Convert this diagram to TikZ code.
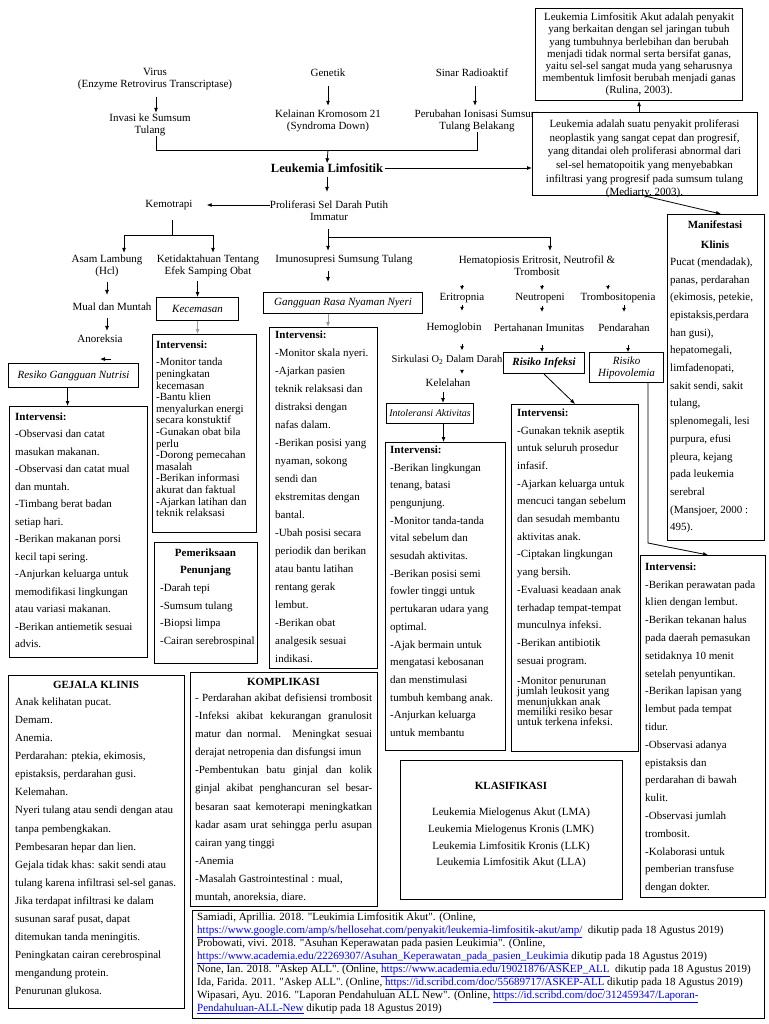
\documentclass[tikz,border=0pt]{standalone}
\usepackage{fontspec}
\setmainfont{Liberation Serif}
\usetikzlibrary{arrows.meta,calc}
\newcommand\myfs[2]{\fontsize{#1}{#2}\selectfont}
\newcommand\jl[1]{\makebox[177pt][s]{#1}}
\newcommand\lnk[1]{\textcolor{blue}{\underline{#1}}}
\newcommand\qq{\textquotedbl}
\begin{document}
\begin{tikzpicture}[x=1pt,y=-1pt,
  box/.style={draw, line width=1.1pt, inner sep=0pt, anchor=north west, fill=white, font=\myfs{11}{12}},
  tx/.style={anchor=north west, align=left, inner sep=0pt},
  lbl/.style={align=center, inner sep=0pt, font=\myfs{11}{12}},
  arr/.style={-{Latex[length=5pt,width=4pt]}, line width=0.8pt},
  sarr/.style={-{Latex[length=4pt,width=4pt]}, line width=0.8pt},
  garr/.style={arr, draw=gray!80, fill=gray!80},
  ln/.style={line width=0.8pt}
]
\useasboundingbox (0,0) rectangle (768,1024);

% ---------- top causes
\node[lbl] (virus) at (155,79.5) {Virus\\(Enzyme Retrovirus Transcriptase)};
\node[lbl] (invasi) at (150,125) {Invasi ke Sumsum\\Tulang};
\node[lbl] (genetik) at (328,73) {Genetik};
\node[lbl] (kelainan) at (328,121) {Kelainan Kromosom 21\\(Syndroma Down)};
\node[lbl] (sinar) at (472,73) {Sinar Radioaktif};
\node[lbl] (perubahan) at (477,121) {Perubahan Ionisasi Sumsum\\Tulang Belakang};
\node[font=\myfs{12.5}{14}\bfseries, inner sep=0pt] (leuk) at (327,168) {Leukemia Limfositik};

\coordinate (jl) at (156,150);
\coordinate (jr) at (477,150);
\coordinate (jm) at (328,150);

% ---------- definition boxes
\node[box, minimum width=207pt, minimum height=92pt] (def1) at (535,8) {};
\node[align=center, inner sep=0pt, font=\myfs{11}{12.2}] (tdef1) at (def1.center) {Leukemia Limfositik Akut adalah penyakit\\yang berkaitan dengan sel jaringan tubuh\\yang tumbuhnya berlebihan dan berubah\\menjadi tidak normal serta bersifat ganas,\\yaitu sel-sel sangat muda yang seharusnya\\membentuk limfosit berubah menjadi ganas\\(Rulina, 2003).};
\node[box, minimum width=225pt, minimum height=83pt] (def2) at (532,112) {};
\node[align=center, inner sep=0pt, font=\myfs{11}{13.6}] (tdef2) at (644.5,159) {Leukemia adalah suatu penyakit proliferasi\\neoplastik yang sangat cepat dan progresif,\\yang ditandai oleh proliferasi abnormal dari\\sel-sel hematopoitik yang menyebabkan\\infiltrasi yang progresif pada sumsum tulang\\(Mediarty, 2003).};

\node[box, minimum width=97pt, minimum height=326pt] (manif) at (667,214) {};
\node[align=center, inner sep=0pt, font=\myfs{11}{20}\bfseries] (tmanif1) at (715,235) {Manifestasi\\Klinis};
\node[tx, font=\myfs{11}{17.7}] (tmanif2) at (670,257.5) {Pucat (mendadak),\\panas, perdarahan\\(ekimosis, petekie,\\epistaksis,perdara\\han gusi),\\hepatomegali,\\limfadenopati,\\sakit sendi, sakit\\tulang,\\splenomegali, lesi\\purpura, efusi\\pleura, kejang\\pada leukemia\\serebral\\(Mansjoer, 2000 :\\495).};

% ---------- middle
\node[lbl] (prolif) at (329,211) {Proliferasi Sel Darah Putih\\Immatur};
\node[lbl] (kemo) at (169,205) {Kemotrapi};
\coordinate (kj) at (172,235);
\node[lbl] (asam) at (107,266) {Asam Lambung\\(Hcl)};
\node[lbl] (keti) at (208,266) {Ketidaktahuan Tentang\\Efek Samping Obat};
\node[lbl] (mual) at (112,307) {Mual dan Muntah};
\node[lbl] (anor) at (100,339) {Anoreksia};
\node[box, minimum width=130pt, minimum height=24pt, font=\myfs{11}{12}\itshape] (resnut) at (8,363) {Resiko Gangguan Nutrisi};

\node[box, minimum width=138pt, minimum height=251pt] (int1) at (9,406) {};
\node[tx, font=\myfs{11}{17.5}] (tint1) at (15,412.5) {\textbf{Intervensi:}\\-Observasi dan catat\\masukan makanan.\\-Observasi dan catat mual\\dan muntah.\\-Timbang berat badan\\setiap hari.\\-Berikan makanan porsi\\kecil tapi sering.\\-Anjurkan keluarga untuk\\memodifikasi lingkungan\\atau variasi makanan.\\-Berikan antiemetik sesuai\\advis.};

\node[box, minimum width=82pt, minimum height=23pt, font=\myfs{11}{12}\itshape] (kecem) at (156,297) {Kecemasan};
\node[box, minimum width=104pt, minimum height=198pt] (int2) at (152,334) {};
\node[tx, font=\myfs{11}{11.6}] (tint2) at (156,340.5) {\textbf{Intervensi:}\\[6pt]-Monitor tanda\\peningkatan\\kecemasan\\-Bantu klien\\menyalurkan energi\\secara konstuktif\\-Gunakan obat bila\\perlu\\-Dorong pemecahan\\masalah\\-Berikan informasi\\akurat dan faktual\\-Ajarkan latihan dan\\teknik relaksasi};

\node[box, minimum width=103pt, minimum height=121pt] (pemer) at (154,542) {};
\node[align=center, inner sep=0pt, font=\myfs{11}{17}\bfseries] (tpemer1) at (205.5,562) {Pemeriksaan\\Penunjang};
\node[tx, font=\myfs{11}{17.7}] (tpemer2) at (160,583.5) {-Darah tepi\\-Sumsum tulang\\-Biopsi limpa\\-Cairan serebrospinal};

\node[lbl] (imuno) at (344,260) {Imunosupresi Sumsung Tulang};
\node[box, minimum width=159pt, minimum height=21pt, font=\myfs{11}{12}\itshape] (gangg) at (263,292) {Gangguan Rasa Nyaman Nyeri};
\node[box, minimum width=108pt, minimum height=341pt] (int3) at (269,327) {};
\node[tx, font=\myfs{11}{18}] (tint3) at (275,330.5) {\textbf{Intervensi:}\\-Monitor skala nyeri.\\-Ajarkan pasien\\teknik relaksasi dan\\distraksi dengan\\nafas dalam.\\-Berikan posisi yang\\nyaman, sokong\\sendi dan\\ekstremitas dengan\\bantal.\\-Ubah posisi secara\\periodik dan berikan\\atau bantu latihan\\rentang gerak\\lembut.\\-Berikan obat\\analgesik sesuai\\indikasi.};

% ---------- hematopoiesis branch
\node[lbl] (hemat) at (537,266) {Hematopiosis Eritrosit, Neutrofil \&\\Trombosit};
\node[lbl] (erit) at (462,298) {Eritropnia};
\node[lbl] (neut) at (540,298) {Neutropeni};
\node[lbl] (tromb) at (618,298) {Trombositopenia};
\node[lbl] (hemo) at (454,328) {Hemoglobin};
\node[lbl] (pert) at (539,328) {Pertahanan Imunitas};
\node[lbl] (pend) at (624,328) {Pendarahan};
\node[lbl, font=\myfs{10.5}{12}] (sirk) at (447,360) {Sirkulasi O\textsubscript{2} Dalam Darah};
\node[box, minimum width=81pt, minimum height=21pt, font=\myfs{11}{12}\bfseries\itshape] (risinf) at (503,352) {Risiko Infeksi};
\node[box, minimum width=74pt, minimum height=30pt, align=center, font=\myfs{11}{12}\itshape] (rishipo) at (589,352) {Risiko\\Hipovolemia};
\node[lbl] (kel) at (448,383) {Kelelahan};
\node[box, minimum width=87pt, minimum height=20pt, font=\myfs{10}{12}\itshape] (intol) at (386,403) {Intoleransi Aktivitas};

\node[box, minimum width=120pt, minimum height=308pt] (int4) at (385,442) {};
\node[tx, font=\myfs{11}{17.7}] (tint4) at (390,445.5) {\textbf{Intervensi:}\\-Berikan lingkungan\\tenang, batasi\\pengunjung.\\-Monitor tanda-tanda\\vital sebelum dan\\sesudah aktivitas.\\-Berikan posisi semi\\fowler tinggi untuk\\pertukaran udara yang\\optimal.\\-Ajak bermain untuk\\mengatasi kebosanan\\dan menstimulasi\\tumbuh kembang anak.\\-Anjurkan keluarga\\untuk membantu};

\node[box, minimum width=127pt, minimum height=347pt] (int5) at (511,404) {};
\node[tx, font=\myfs{11}{17.7}] (tint5a) at (517,408.5) {\textbf{Intervensi:}\\-Gunakan teknik aseptik\\untuk seluruh prosedur\\infasif.\\-Ajarkan keluarga untuk\\mencuci tangan sebelum\\dan sesudah membantu\\aktivitas anak.\\-Ciptakan lingkungan\\yang bersih.\\-Evaluasi keadaan anak\\terhadap tempat-tempat\\munculnya infeksi.\\-Berikan antibiotik\\sesuai program.};
\node[tx, font=\myfs{11}{10}] (tint5b) at (517,677.5) {-Monitor penurunan\\jumlah leukosit yang\\menunjukkan anak\\memiliki resiko besar\\untuk terkena infeksi.};

\coordinate (hp) at (648,543);
\node[box, minimum width=125pt, minimum height=342pt] (int6) at (640,555) {};
\node[tx, font=\myfs{11}{17.8}] (tint6) at (645,562.5) {\textbf{Intervensi:}\\-Berikan perawatan pada\\klien dengan lembut.\\-Berikan tekanan halus\\pada daerah pemasukan\\setidaknya 10 menit\\setelah penyuntikan.\\-Berikan lapisan yang\\lembut pada tempat\\tidur.\\-Observasi adanya\\epistaksis dan\\perdarahan di bawah\\kulit.\\-Observasi jumlah\\trombosit.\\-Kolaborasi untuk\\pemberian transfuse\\dengan dokter.};

% ---------- bottom boxes
\node[box, minimum width=176pt, minimum height=333pt] (gejala) at (8,675) {};
\node[inner sep=0pt, font=\myfs{11}{12}\bfseries] (tgejala1) at (96,685) {GEJALA KLINIS};
\node[tx, font=\myfs{11}{18.1}] (tgejala2) at (15,697.5) {Anak kelihatan pucat.\\Demam.\\Anemia.\\Perdarahan: ptekia, ekimosis,\\epistaksis, perdarahan gusi.\\Kelemahan.\\Nyeri tulang atau sendi dengan atau\\tanpa pembengkakan.\\Pembesaran hepar dan lien.\\Gejala tidak khas: sakit sendi atau\\tulang karena infiltrasi sel-sel ganas.\\Jika terdapat infiltrasi ke dalam\\susunan saraf pusat, dapat\\ditemukan tanda meningitis.\\Peningkatan cairan cerebrospinal\\mengandung protein.\\Penurunan glukosa.};

\node[box, minimum width=187pt, minimum height=234pt] (kompl) at (190,672) {};
\node[inner sep=0pt, font=\myfs{11}{12}\bfseries] (tkompl1) at (283.5,682) {KOMPLIKASI};
\node[tx, font=\myfs{11}{18.1}] (tkompl2) at (195,693.5) {\jl{- Perdarahan akibat defisiensi trombosit}\\\jl{-Infeksi akibat kekurangan granulosit}\\\jl{matur dan normal. Meningkat sesuai}\\derajat netropenia dan disfungsi imun\\\jl{-Pembentukan batu ginjal dan kolik}\\\jl{ginjal akibat penghancuran sel besar-}\\\jl{besaran saat kemoterapi meningkatkan}\\\jl{kadar asam urat sehingga perlu asupan}\\cairan yang tinggi\\-Anemia\\-Masalah Gastrointestinal : mual,\\muntah, anoreksia, diare.};

\node[box, minimum width=222pt, minimum height=139pt] (klas) at (400,760) {};
\node[anchor=north, align=center, inner sep=0pt, font=\myfs{11}{16.7}] (tklas) at (511,782.5) {\textbf{KLASIFIKASI}\\[9pt]Leukemia Mielogenus Akut (LMA)\\Leukemia Mielogenus Kronis (LMK)\\Leukemia Limfositik Kronis (LLK)\\Leukemia Limfositik Akut (LLA)};

\node[box, minimum width=572pt, minimum height=108pt] (refs) at (192,910) {};
\node[tx, font=\myfs{11}{12.9}] (trefs) at (197,913) {Samiadi, Aprillia. 2018. \qq Leukimia Limfositik Akut\qq. (Online,\\\lnk{https://www.google.com/amp/s/hellosehat.com/penyakit/leukemia-limfositik-akut/amp/}\ \ dikutip pada 18 Agustus 2019)\\Probowati, vivi. 2018. \qq Asuhan Keperawatan pada pasien Leukimia\qq. (Online,\\\lnk{https://www.academia.edu/22269307/Asuhan\_Keperawatan\_pada\_pasien\_Leukimia} dikutip pada 18 Agustus 2019)\\None, Ian. 2018. \qq Askep ALL\qq. (Online, \lnk{https://www.academia.edu/19021876/ASKEP\_ALL}\ \ dikutip pada 18 Agustus 2019)\\Ida, Farida. 2011. \qq Askep ALL\qq. (Online, \lnk{https://id.scribd.com/doc/55689717/ASKEP-ALL} dikutip pada 18 Agustus 2019)\\Wipasari, Ayu. 2016. \qq Laporan Pendahuluan ALL New\qq. (Online, \lnk{https://id.scribd.com/doc/312459347/Laporan-}\\\lnk{Pendahuluan-ALL-New} dikutip pada 18 Agustus 2019)};

% ---------- connectors
\draw[arr] ($(virus.south)+(1,6)$) -- ($(virus.south |- invasi.north)+(1,-1)$);
\draw[arr] ($(genetik.south)+(0,9)$) -- ($(kelainan.north)+(0,-4)$);
\draw[arr] ($(sinar.south)+(3,9)$) -- ($(sinar.south |- perubahan.north)+(3,-4)$);
\draw[ln] (invasi.south -| jl) -- (jl) -- (jr) -- (perubahan.south -| jr);
\draw[arr] (jm) -- (leuk.north);
\draw[arr] ($(leuk.east)+(2,0)$) -- (def2.west |- leuk.east);
\draw[arr] ($(leuk.south)+(0,4)$) -- ($(leuk.south |- prolif.north)+(0,-9)$);
\draw[arr] (def1.south |- def2.north) -- (def1.south);
\draw[arr] (def2.south) -- ($(manif.north)+(5,0)$);

\draw[arr] (prolif.west |- kemo.east) -- ($(kemo.east)+(14,0)$);
\draw[ln] ($(kemo.south -| kj)+(0,10)$) -- (kj);
\draw[arr] (kj) -| ($(asam.north)+(17,-2)$);
\draw[arr] (kj) -| ($(keti.north)+(5,-2)$);
\draw[arr] ($(asam.south)+(0,5)$) -- ($(asam.south |- mual.north)+(0,-8)$);
\draw[arr] ($(mual.south -| asam.south)+(0,7)$) -- ($(anor.north -| asam.south)+(0,-4)$);
\draw[arr] ($(anor.south)+(11,16)$) -- ($(anor.south)+(0,16)$);
\draw[arr] ($(resnut.south)+(-6,0)$) -- ($(resnut.south |- int1.north)+(-6,0)$);
\draw[arr] ($(kecem.north |- keti.south)+(0,4)$) -- (kecem.north);
\draw[garr] (kecem.south) -- (kecem.south |- int2.north);

\draw[arr] ($(prolif.south)+(-1,8)$) -- ($(prolif.south |- imuno.north)+(-1,-4)$);
\draw[arr] ($(prolif.south)+(-1,16)$) -| ($(hemat.north)+(13,-5)$);
\draw[arr] ($(imuno.south -| prolif.south)+(-1,6)$) -- ($(prolif.south |- gangg.north)+(-1,-10)$);
\draw[garr] ($(gangg.south -| prolif.south)+(-1,0)$) -- ($(prolif.south |- int3.north)+(-1,0)$);

\draw[sarr] ($(hemat.south -| erit.north)+(0,9)$) -- ($(erit.north)+(0,-3)$);
\draw[sarr] ($(hemat.south -| neut.north)+(2,9)$) -- ($(neut.north)+(2,-3)$);
\draw[sarr] ($(hemat.south -| tromb.north)+(-10,9)$) -- ($(tromb.north)+(-10,-3)$);
\draw[sarr] ($(erit.south)+(0,2)$) -- ($(erit.south |- hemo.north)+(0,-12)$);
\draw[sarr] ($(neut.south)+(2,3)$) -- ($(neut.south |- pert.north)+(2,-12)$);
\draw[sarr] ($(pend.north |- tromb.south)+(0,2)$) -- ($(pend.north)+(0,-12)$);
\draw[sarr] ($(erit.south |- hemo.south)+(0,11)$) -- ($(erit.south |- sirk.north)+(0,-5)$);
\draw[sarr] ($(pert.south)+(3,13)$) -- ($(pert.south |- risinf.north)+(3,0)$);
\draw[sarr] ($(pend.south)+(4,13)$) -- ($(pend.south |- rishipo.north)+(4,0)$);
\draw[sarr] ($(erit.south |- sirk.south)+(0,5)$) -- ($(erit.south |- kel.north)+(0,-5)$);
\draw[arr] ($(kel.south)+(-5,5)$) -- ($(kel.south |- intol.north)+(-5,0)$);
\draw[arr] ($(intol.south)+(13.5,0)$) -- ($(intol.south |- int4.north)+(13.5,0)$);
\draw[arr] (risinf.south) -- (int5.north);
\draw[arr] (rishipo.south -| hp) -- (hp) -- ($(int6.north)+(5,0)$);
\end{tikzpicture}
\end{document}
